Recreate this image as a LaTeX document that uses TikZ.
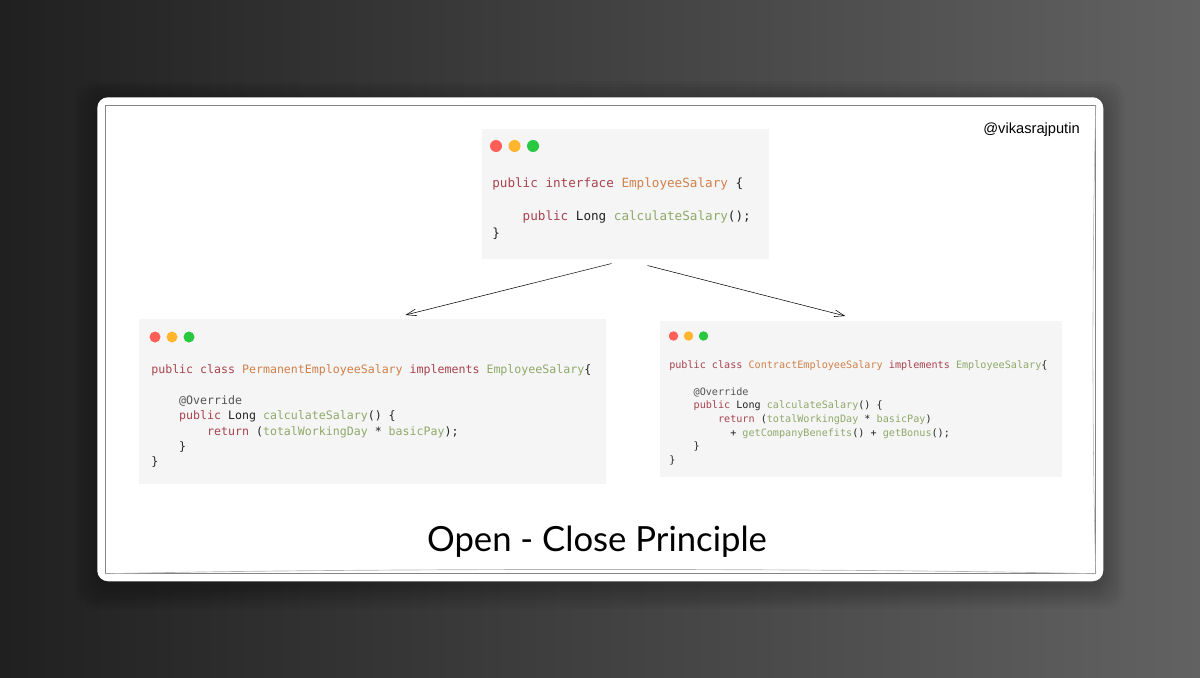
\documentclass[tikz,border=0pt]{standalone}
\usepackage{fontspec}
\setmainfont{Liberation Sans}
\setmonofont{DejaVu Sans Mono}
\newfontfamily\titlefont{Lato}
\usetikzlibrary{arrows.meta,positioning}
\definecolor{bgleft}{HTML}{202020}
\definecolor{bgright}{HTML}{626262}
\definecolor{panelgray}{HTML}{F5F5F5}
\definecolor{framegray}{HTML}{848484}
\definecolor{btnred}{HTML}{FF5F57}
\definecolor{btnyellow}{HTML}{FFB62E}
\definecolor{btngreen}{HTML}{28C840}
\definecolor{kwcolor}{HTML}{A8434F}
\definecolor{typecolor}{HTML}{D0814A}
\definecolor{fncolor}{HTML}{8FA96A}
\definecolor{annocolor}{HTML}{555555}
\definecolor{plaincolor}{HTML}{222222}
\newcommand{\kw}[1]{\textcolor{kwcolor}{#1}}
\newcommand{\ty}[1]{\textcolor{typecolor}{#1}}
\newcommand{\fn}[1]{\textcolor{fncolor}{#1}}
\newcommand{\anno}[1]{\textcolor{annocolor}{#1}}
\newcommand{\ind}[1]{\phantom{#1}}

\begin{document}
\begin{tikzpicture}[
		x=0.75pt, y=-0.75pt,
		panel/.style={fill=panelgray, inner sep=0pt, anchor=north west},
		code/.style={anchor=north west, inner sep=0pt, align=left, text=plaincolor},
		winbtn/.style={circle, inner sep=0pt},
		relation/.style={-{Straight Barb[length=7.5pt,width=5pt]}, line width=0.4pt, black},
	]
		\useasboundingbox (0,0) rectangle (1200,678);
		\shade[left color=bgleft, right color=bgright] (0,0) rectangle (1200,678);

		% soft shadow under the card
		\foreach \s in {22,19,...,1}
			\fill[black, opacity=0.03, rounded corners=14pt] (97-\s,97-\s+6) rectangle (1103+\s,581+\s+6);

		\node[fill=white, rounded corners=8pt, inner sep=0pt, minimum width=754.5pt, minimum height=363pt, anchor=north west] (card) at (97,97) {};
		\node[draw=framegray, line width=0.6pt, inner sep=0pt, minimum width=742.5pt, minimum height=351pt, anchor=north west] (frame) at (105,105) {};
		\draw[framegray!60, line width=0.5pt] (frame.south west) .. controls (350,568) and (850,568) .. (frame.south east);
		\draw[framegray!60, line width=0.4pt] (frame.north east) .. controls (1092,250) and (1092,450) .. (frame.south east);

		\node[anchor=base east, inner sep=0pt, font=\fontsize{11}{13}\selectfont, text=black] (handle) at (1080,133) {@vikasrajputin};

		\node[panel, minimum width=215.6pt, minimum height=97.5pt] (iface) at (481.5,129) {};
		\node[winbtn, fill=btnred, minimum size=9pt] (ifacered) at (496,146) {};
		\node[winbtn, fill=btnyellow, minimum size=9pt, right=4.5pt of ifacered] (ifaceyellow) {};
		\node[winbtn, fill=btngreen, minimum size=9pt, right=4.5pt of ifaceyellow] (ifacegreen) {};
		\node[code, font=\ttfamily\fontsize{9.47}{12.5}\selectfont] (ifacecode) at ([xshift=7.9pt,yshift=-36.3pt]iface.north west) {
			\kw{public} \kw{interface} \ty{EmployeeSalary} \{\\
			\mbox{}\\
			\ind{xxxx}\kw{public} Long \fn{calculateSalary}();\\
			\}};

		\node[panel, minimum width=350.6pt, minimum height=123.75pt] (perm) at (138.5,319) {};
		\node[winbtn, fill=btnred, minimum size=8.25pt] (permred) at (155,337) {};
		\node[winbtn, fill=btnyellow, minimum size=8.25pt, right=4.1pt of permred] (permyellow) {};
		\node[winbtn, fill=btngreen, minimum size=8.25pt, right=4.1pt of permyellow] (permgreen) {};
		\node[code, font=\ttfamily\fontsize{8.7}{11.6}\selectfont] (permcode) at ([xshift=9.4pt,yshift=-33.75pt]perm.north west) {
			\kw{public} \kw{class} \ty{PermanentEmployeeSalary} \kw{implements} \fn{EmployeeSalary}\{\\
			\mbox{}\\
			\ind{xxxx}\anno{@Override}\\
			\ind{xxxx}\kw{public} Long \fn{calculateSalary}() \{\\
			\ind{xxxxxxxx}\kw{return} (\fn{totalWorkingDay} * \fn{basicPay});\\
			\ind{xxxx}\}\\
			\}};

		\node[panel, minimum width=301.5pt, minimum height=117pt] (contract) at (660,321) {};
		\node[winbtn, fill=btnred, minimum size=7.1pt] (contractred) at (673.5,336) {};
		\node[winbtn, fill=btnyellow, minimum size=7.1pt, right=3.75pt of contractred] (contractyellow) {};
		\node[winbtn, fill=btngreen, minimum size=7.1pt, right=3.75pt of contractyellow] (contractgreen) {};
		\node[code, font=\ttfamily\fontsize{7.6}{10.2}\selectfont] (contractcode) at ([xshift=6.75pt,yshift=-29.25pt]contract.north west) {
			\kw{public} \kw{class} \ty{ContractEmployeeSalary} \kw{implements} \fn{EmployeeSalary}\{\\
			\mbox{}\\
			\ind{xxxx}\anno{@Override}\\
			\ind{xxxx}\kw{public} Long \fn{calculateSalary}() \{\\
			\ind{xxxxxxxx}\kw{return} (\fn{totalWorkingDay} * \fn{basicPay})\\
			\ind{xxxxxxxxxx}+ \fn{getCompanyBenefits}() + \fn{getBonus}();\\
			\ind{xxxx}\}\\
			\}};

		\draw[relation] ([xshift=-10.5pt,yshift=-3pt]iface.south) -- ([xshift=24.75pt,yshift=3pt]perm.north);
		\draw[relation] ([xshift=16.5pt,yshift=-4.5pt]iface.south) -- ([xshift=-12pt,yshift=3.75pt]contract.north);

		\node[font=\titlefont\fontsize{26}{30}\selectfont, text=black] (title) at (597,542) {Open - Close Principle};
\end{tikzpicture}
\end{document}
